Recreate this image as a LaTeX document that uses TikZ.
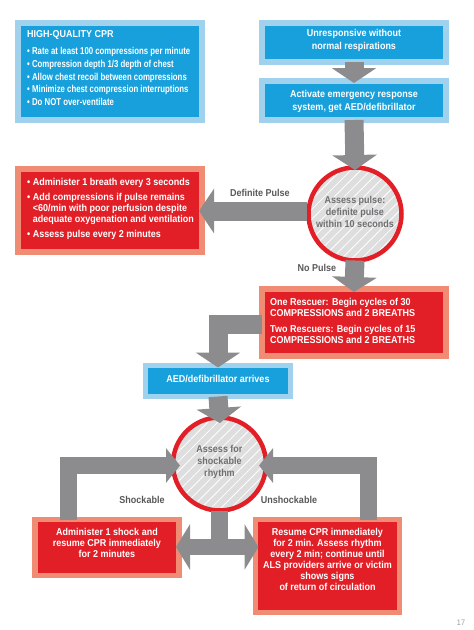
\documentclass[tikz,border=0pt]{standalone}
\usepackage{fontspec}
\setmainfont{Liberation Sans}[FakeStretch=0.9]
\newfontfamily\hqfont{Liberation Sans}[FakeStretch=0.78]
\usetikzlibrary{arrows.meta,patterns.meta}
\definecolor{bluein}{RGB}{23,160,219}
\definecolor{blueout}{RGB}{160,210,238}
\definecolor{redin}{RGB}{226,30,38}
\definecolor{redout}{RGB}{240,140,115}
\definecolor{arrgray}{RGB}{140,140,142}
\definecolor{lblgray}{RGB}{88,88,90}
\definecolor{circgray}{RGB}{112,112,114}
\definecolor{circfill}{RGB}{222,222,222}
\begin{document}
\begin{tikzpicture}[x=1pt,y=-1pt,
  bluebox/.style={draw=blueout, fill=bluein, line width=6pt, inner sep=0pt, outer sep=0pt},
  redbox/.style={draw=redout, fill=redin, line width=6pt, inner sep=0pt, outer sep=0pt},
  wtext/.style={text=white, inner sep=0pt, font=\bfseries\fontsize{10}{11}\selectfont},
  btext/.style={text=white, inner sep=0pt, font=\bfseries\fontsize{10}{13}\selectfont},
  ctext/.style={text=circgray, inner sep=0pt, align=center, font=\bfseries\fontsize{10}{11.8}\selectfont},
  lbl/.style={text=lblgray, inner sep=0pt, font=\bfseries\fontsize{10}{11}\selectfont},
  decision/.style={circle, minimum size=93pt, inner sep=0pt, outer sep=0pt,
    preaction={fill=circfill},
    preaction={pattern={Lines[angle=45,distance=7pt,line width=0.8pt]}, pattern color=white},
    draw=redin, line width=4.5pt},
  flow/.style={draw=arrgray, line width=19pt, line join=miter,
    -{Triangle[width=44pt,length=15pt]}},
  loopflow/.style={draw=arrgray, line width=17pt, line join=miter,
    -{Triangle[width=34pt,length=14pt]}},
  shaft/.style={draw=arrgray, line width=17pt},
  twoway/.style={draw=arrgray, line width=16pt,
    {Triangle[width=45pt,length=14pt]}-{Triangle[width=45pt,length=14pt]}}
]
\useasboundingbox (0,0) rectangle (474,630);

% boxes
\node[bluebox, minimum width=184pt, minimum height=97pt] (hq) at (110,71.5) {};
\node[bluebox, minimum width=184pt, minimum height=39pt] (unresp) at (354,42.5) {};
\node[bluebox, minimum width=184pt, minimum height=39pt] (activate) at (354,100.5) {};
\node[redbox, minimum width=184pt, minimum height=83pt] (breath) at (110,210.5) {};
\node[redbox, minimum width=184pt, minimum height=67pt] (cycles) at (354,322.5) {};
\node[bluebox, line width=5pt, minimum width=145pt, minimum height=31pt] (aed) at (218,381) {};
\node[redbox, line width=5.5pt, minimum width=144pt, minimum height=56pt] (shock) at (107,547.5) {};
\node[redbox, line width=5.5pt, minimum width=144pt, minimum height=93pt] (resume) at (327.5,566) {};
\node[decision] (pulse) at (355,214) {};
\node[decision] (rhythm) at (219.5,464) {};

% texts
\node[text=white, inner sep=0pt, anchor=north west, align=left,
  font=\bfseries\fontsize{10}{12.6}\selectfont] (hqtxt) at (27,30.6) {HIGH-QUALITY CPR\\[4.5pt]
  {\hqfont • Rate at least 100 compressions per minute}\\
  {\hqfont • Compression depth 1/3 depth of chest}\\
  {\hqfont • Allow chest recoil between compressions}\\
  {\hqfont • Minimize chest compression interruptions}\\
  {\hqfont • Do NOT over-ventilate}};
\node[btext, align=center] (unresptxt) at (354,40.5) {Unresponsive without\\normal respirations};
\node[btext, align=center] (activatetxt) at (354,101) {Activate emergency response\\system, get AED/defibrillator};
\node[wtext, anchor=north west, align=left] (breathtxt) at (27,178.2) {• Administer 1 breath every 3 seconds\\[4pt]
  • Add compressions if pulse remains\\
  \phantom{• }<60/min with poor perfusion despite\\
  \phantom{• }adequate oxygenation and ventilation\\[4pt]
  • Assess pulse every 2 minutes};
\node[wtext, anchor=north west, align=left] (cyclestxt) at (270,298.2) {One Rescuer: Begin cycles of 30\\
  COMPRESSIONS and 2 BREATHS\\[5pt]
  Two Rescuers: Begin cycles of 15\\
  COMPRESSIONS and 2 BREATHS};
\node[btext] (aedtxt) at (218,378.5) {AED/defibrillator arrives};
\node[ctext] (pulsetxt) at (355,212) {Assess pulse:\\definite pulse\\within 10 seconds};
\node[ctext] (rhythmtxt) at (219.5,462) {Assess for\\shockable\\rhythm};
\node[wtext, align=center] (shocktxt) at (107,543) {Administer 1 shock and\\resume CPR immediately\\for 2 minutes};
\node[wtext, align=center] (resumetxt) at (327.5,559) {Resume CPR immediately\\for 2 min. Assess rhythm\\every 2 min; continue until\\ALS providers arrive or victim\\shows signs\\of return of circulation};

% connectors
\draw[flow, shorten >=-2pt] (unresp.south) -- (activate.north);
\draw[flow, shorten >=-2.5pt] (activate.south) -- (pulse.north);
\draw[flow, shorten <=2pt, shorten >=-3pt] ([yshift=3pt]pulse.west) -- ([yshift=3pt]pulse.west -| breath.east);
\draw[flow, shorten >=-3pt] (pulse.south) -- (cycles.north);
\draw[flow, shorten >=-2pt] ([yshift=-1.5pt]cycles.west) -| (aed.north);
\draw[flow, shorten >=-5.5pt] (aed.south) -- (rhythm.north);
\coordinate (tj) at (219.5,547);
\draw[shaft] (rhythm.south) -- (tj);
\draw[twoway, shorten <=-3pt, shorten >=-3pt] (shock.east |- tj) -- (resume.west |- tj);
\draw[loopflow, shorten >=-7pt] ([xshift=-38.5pt]shock.north) |- ([yshift=-1.5pt]rhythm.west);
\draw[loopflow, shorten >=-7pt] ([xshift=41pt]resume.north) |- ([yshift=-1.5pt]rhythm.east);

% labels
\node[lbl] (lbldef) at (260,192.5) {Definite Pulse};
\node[lbl] (lblno) at (317,267.5) {No Pulse};
\node[lbl] (lblsh) at (142,499.5) {Shockable};
\node[lbl] (lblun) at (289,499.5) {Unshockable};
\node[text=black!40, inner sep=0pt, font=\fontsize{8}{9}\selectfont] (pagenum) at (461,623) {17};
\end{tikzpicture}
\end{document}
